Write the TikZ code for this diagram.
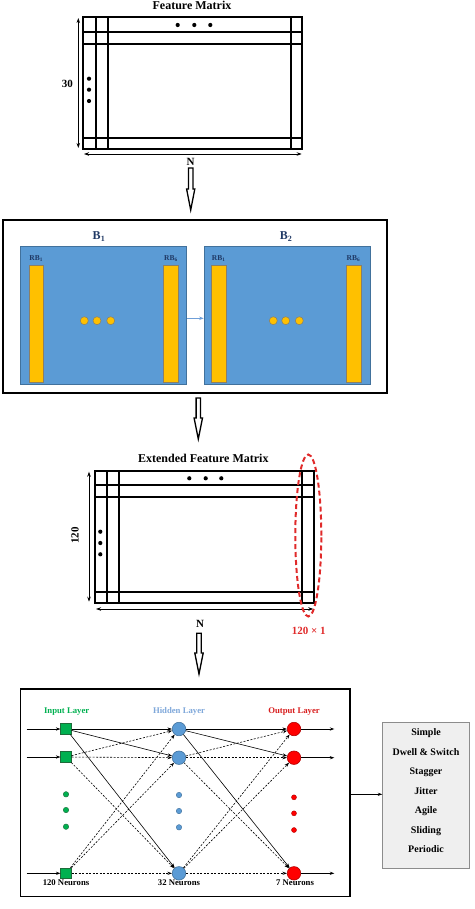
\documentclass[tikz,border=0pt]{standalone}
\usepackage{fontspec}
\setmainfont{Liberation Serif}
\usetikzlibrary{arrows.meta,shapes.geometric,calc}
\definecolor{blockblue}{HTML}{5B9BD5}
\definecolor{blockedge}{HTML}{41719C}
\definecolor{bargold}{HTML}{FFC000}
\definecolor{baredge}{HTML}{8A7F66}
\definecolor{navy}{HTML}{1F3864}
\definecolor{ingreen}{HTML}{00B050}
\definecolor{ingreenedge}{HTML}{1E6B3A}
\definecolor{hidlabel}{HTML}{7FA8DA}
\definecolor{outred}{HTML}{FF0000}
\definecolor{outredlabel}{HTML}{D81E1E}
\definecolor{ellred}{HTML}{E02A2A}
\definecolor{listfill}{HTML}{EFEFEF}
\definecolor{listedge}{HTML}{8C8C8C}
\definecolor{smallarrow}{HTML}{6F9FD8}
\begin{document}
\begin{tikzpicture}[x=1pt,y=-1pt,
  mline/.style={line width=1.8pt},
  dimarrow/.style={line width=0.8pt,{Stealth[length=5pt,width=3.5pt]}-{Stealth[length=5pt,width=3.5pt]}},
  hollow/.style={line width=1.3pt,fill=white,line join=miter},
  title/.style={font=\bfseries\fontsize{12}{14}\selectfont},
  lab/.style={font=\bfseries\fontsize{11}{13}\selectfont},
  rblab/.style={font=\bfseries\fontsize{7.5}{9}\selectfont,text=navy,anchor=base,inner sep=0},
  bluebox/.style={draw=blockedge,fill=blockblue,line width=0.7pt},
  goldbar/.style={draw=baredge,fill=bargold,line width=0.7pt},
  golddot/.style={circle,draw=baredge,fill=bargold,line width=0.5pt,minimum size=8pt,inner sep=0},
  blackdot/.style={circle,fill=black,minimum size=4.2pt,inner sep=0},
  insq/.style={rectangle,draw=ingreenedge,fill=ingreen,line width=0.6pt,minimum size=10.5pt,inner sep=0},
  hidc/.style={circle,draw=blockedge,fill=blockblue,line width=0.6pt,minimum size=13.5pt,inner sep=0},
  outc/.style={circle,draw=red!70!black,fill=outred,line width=0.6pt,minimum size=13.5pt,inner sep=0},
  smalldot/.style={circle,minimum size=5.5pt,inner sep=0,line width=0.4pt},
  nnlab/.style={font=\bfseries\fontsize{8.7}{10}\selectfont,anchor=base,inner sep=0},
  edge/.style={line width=0.6pt,-{Stealth[length=4.5pt,width=3.2pt]}},
  dedge/.style={edge,dash pattern=on 2pt off 1.5pt},
  listitem/.style={font=\bfseries\fontsize{10}{12}\selectfont,anchor=base,inner sep=0}
]
\useasboundingbox (0,0) rectangle (474,909);

% ---------- Feature Matrix ----------
\node[title,anchor=base,inner sep=0] (t1) at (192,9.3) {Feature Matrix};
\draw[mline] (83.3,17.3) rectangle (302.3,149.3);
\foreach \x in {95.7,107.7,291} \draw[mline] (\x,17.3) -- (\x,149.3);
\foreach \y in {32,44,137.7} \draw[mline] (83.3,\y) -- (302.3,\y);
\foreach \x [count=\i] in {177.7,194.3,210.3} \node[blackdot] (ta\i) at (\x,25) {};
\foreach \y [count=\i] in {78.7,89.7,101} \node[blackdot] (la\i) at (89,\y) {};
\coordinate (v1a) at (78.3,18); \coordinate (v1b) at (78.3,148);
\draw[dimarrow] (v1a) -- (v1b);
\coordinate (h1a) at (84,154); \coordinate (h1b) at (301.7,154);
\draw[dimarrow] (h1a) -- (h1b);
\node[lab,anchor=base,inner sep=0] (thirty) at (67.3,87.3) {30};
\node[lab,anchor=base,inner sep=0] (n1) at (190.7,166) {N};

% hollow arrow 1
\draw[hollow] (188.5,168) -- (192.9,168) -- (192.9,189) -- (194.8,189) -- (190.7,210) -- (186.6,189) -- (188.5,189) -- cycle;

% ---------- Blocks ----------
\draw[line width=2pt] (3.3,220) rectangle (386.7,393.3);
\node[font=\bfseries\fontsize{12}{14}\selectfont,text=navy,anchor=base,inner sep=0] (lb1) at (99,239.3) {B\textsubscript{1}};
\node[font=\bfseries\fontsize{12}{14}\selectfont,text=navy,anchor=base,inner sep=0] (lb2) at (286,239.3) {B\textsubscript{2}};
\node[bluebox,minimum width=166.7pt,minimum height=137.6pt,inner sep=0] (b1) at (103.35,315.5) {};
\node[bluebox,minimum width=166.7pt,minimum height=137.6pt,inner sep=0] (b2) at (287.35,315.5) {};
\draw[goldbar] (29,265) rectangle (43.3,382.3);
\draw[goldbar] (163.7,265) rectangle (178.3,382.3);
\draw[goldbar] (211.3,265) rectangle (226,382.3);
\draw[goldbar] (346,265) rectangle (361,382.3);
\node[rblab] (rb11) at (36.2,260) {RB\textsubscript{1}};
\node[rblab] (rb16) at (171,260) {RB\textsubscript{6}};
\node[rblab] (rb21) at (218.7,260) {RB\textsubscript{1}};
\node[rblab] (rb26) at (353.5,260) {RB\textsubscript{6}};
\foreach \x [count=\i] in {84.3,97,110.7} \node[golddot] (ga\i) at (\x,320.7) {};
\foreach \x [count=\i] in {273.3,285.7,299.3} \node[golddot] (gb\i) at (\x,320.7) {};
\draw[smallarrow,line width=1pt,-{Stealth[length=4.5pt,width=3.5pt]}] ($(b1.east)+(0,2.8)$) -- ($(b2.west)+(0,2.8)$);

% hollow arrow 2
\draw[hollow] (196.1,398) -- (200.5,398) -- (200.5,418) -- (202.5,418) -- (198.3,439) -- (194.1,418) -- (196.1,418) -- cycle;

% ---------- Extended Feature Matrix ----------
\node[title,anchor=base,inner sep=0] (t2) at (203.3,462.7) {Extended Feature Matrix};
\draw[mline] (95,471) rectangle (314,603.3);
\foreach \x in {106.7,119,302.3} \draw[mline] (\x,471) -- (\x,603.3);
\foreach \y in {485,497.3,591.7} \draw[mline] (95,\y) -- (314,\y);
\foreach \x [count=\i] in {189.3,205.7,221.3} \node[blackdot] (tb\i) at (\x,478.3) {};
\foreach \y [count=\i] in {531.7,543,554.3} \node[blackdot] (lbd\i) at (100.3,\y) {};
\coordinate (v2a) at (89,471.7); \coordinate (v2b) at (89,601.7);
\draw[dimarrow] (v2a) -- (v2b);
\coordinate (h2a) at (96,609); \coordinate (h2b) at (313.3,609);
\draw[dimarrow] (h2a) -- (h2b);
\node[lab,rotate=90,inner sep=0] (onetwenty) at (75,535.5) {120};
\node[lab,anchor=base,inner sep=0] (n2) at (200,627.7) {N};
\node[ellipse,draw=ellred,line width=2pt,dash pattern=on 5pt off 3pt,minimum width=26pt,minimum height=162pt,inner sep=0] (ell) at (308.3,535.5) {};
\node[lab,text=ellred,anchor=base,inner sep=0] (dim) at (308.8,634.3) {120 × 1};

% hollow arrow 3
\draw[hollow] (196.8,633.3) -- (201.2,633.3) -- (201.2,653) -- (203.2,653) -- (199,674) -- (194.8,653) -- (196.8,653) -- cycle;

% ---------- Neural network ----------
\node[draw,line width=1.4pt,minimum width=329.3pt,minimum height=207.7pt,inner sep=0] (nnbox) at (185.35,792.85) {};
\node[nnlab,text=ingreen] (il) at (66.7,713.3) {Input Layer};
\node[nnlab,text=hidlabel] (hl) at (179,713.3) {Hidden Layer};
\node[nnlab,text=outredlabel] (ol) at (294,713.3) {Output Layer};

\node[insq] (i1) at (66,729) {};
\node[insq] (i2) at (66,757) {};
\node[insq] (i3) at (66,873.3) {};
\node[hidc] (h1) at (179,729) {};
\node[hidc] (h2) at (179,757.7) {};
\node[hidc] (h3) at (179,873.3) {};
\node[outc] (o1) at (294,729) {};
\node[outc] (o2) at (294,757.7) {};
\node[outc] (o3) at (294,873.3) {};

\foreach \y [count=\i] in {794.3,810,826.7} \node[smalldot,draw=ingreenedge,fill=ingreen] (id\i) at (66,\y) {};
\foreach \y [count=\i] in {795,811,827.3} \node[smalldot,draw=blockedge,fill=blockblue] (hd\i) at (179,\y) {};
\foreach \y [count=\i] in {797.3,813.3,830} \node[smalldot,minimum size=5pt,draw=red!70!black,fill=outred] (od\i) at (294,\y) {};

\foreach \t in {h1,h2,h3} {
  \draw[edge] (i1) -- (\t);
  \draw[dedge] (i2) -- (\t);
  \draw[dedge] (i3) -- (\t);
}
\foreach \t in {o1,o2,o3} {
  \draw[edge] (h1) -- (\t);
  \draw[dedge] (h2) -- (\t);
  \draw[dedge] (h3) -- (\t);
}
\coordinate (in1) at (26.7,729); \coordinate (in2) at (26.7,757); \coordinate (in3) at (26.7,873.3);
\draw[edge,line width=0.8pt] (in1) -- (i1);
\draw[edge,line width=0.8pt] (in2) -- (i2);
\draw[edge,line width=0.8pt] (in3) -- (i3);
\coordinate (out1) at (334.3,729); \coordinate (out2) at (334.3,757.7); \coordinate (out3) at (334.3,873.3);
\draw[edge,line width=0.8pt] (o1) -- (out1);
\draw[edge,line width=0.8pt] (o2) -- (out2);
\draw[edge,line width=0.8pt] (o3) -- (out3);

\node[nnlab] (n120) at (66,885.7) {120 Neurons};
\node[nnlab] (n32) at (179,885.7) {32 Neurons};
\node[nnlab] (n7) at (295,885.7) {7 Neurons};

% ---------- list box ----------
\node[draw=listedge,fill=listfill,line width=0.8pt,minimum width=86.6pt,minimum height=145.7pt,inner sep=0] (lbox) at (426,795.2) {};
\draw[edge,line width=0.9pt] (nnbox.east |- 0,794.3) -- (lbox.west |- 0,794.3);
\node[listitem] (li1) at (426,735.7) {Simple};
\node[listitem] (li2) at (426,755.2) {Dwell \& Switch};
\node[listitem] (li3) at (426,774.7) {Stagger};
\node[listitem] (li4) at (426,794.3) {Jitter};
\node[listitem] (li5) at (426,813.8) {Agile};
\node[listitem] (li6) at (426,833.3) {Sliding};
\node[listitem] (li7) at (426,852.8) {Periodic};
\end{tikzpicture}
\end{document}
